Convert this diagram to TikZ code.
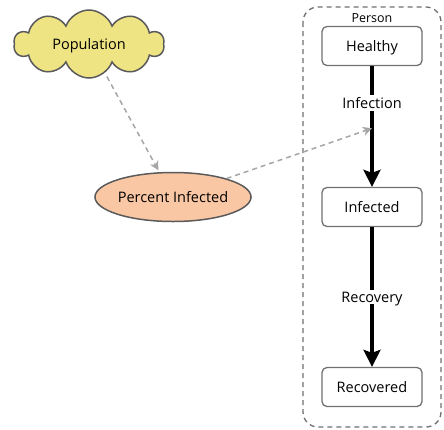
\documentclass[tikz,border=0pt]{standalone}
\usepackage{fontspec}
\setmainfont{Open Sans}
\usetikzlibrary{shapes.symbols,shapes.geometric,arrows.meta}
\definecolor{cloudfill}{HTML}{EEE484}
\definecolor{peach}{HTML}{FAC7A4}
\definecolor{edgegray}{HTML}{5A5A5A}
\definecolor{boxgray}{HTML}{707070}
\definecolor{dashgray}{HTML}{A6A6A6}
\tikzset{
  txt/.style={font=\fontsize{14.5}{16}\selectfont, text depth=0pt},
  statebox/.style={draw=boxgray, line width=1.3pt, rounded corners=5pt, fill=white,
    minimum width=100pt, minimum height=39pt, inner sep=0pt, txt},
  flowarrow/.style={line width=3.8pt, -{Stealth[length=17pt,width=17pt,inset=3pt]}},
  flowlabel/.style={fill=white, inner sep=2pt, txt},
  infl/.style={draw=dashgray, line width=1.5pt, dash pattern=on 5pt off 4pt,
    -{Stealth[length=9pt,width=9pt,inset=2.5pt]}},
}
\begin{document}
\begin{tikzpicture}[x=1pt,y=-1pt]
\useasboundingbox (0,0) rectangle (444,429);
% container
\draw[draw=boxgray, line width=1.3pt, dash pattern=on 5pt off 4pt, rounded corners=15pt]
  (303,7) rectangle (441,427);
\node[txt, font=\fontsize{12.5}{14}\selectfont] (personlbl) at (372,18) {Person};
% states
\node[statebox] (healthy) at (372,46) {Healthy};
\node[statebox] (infected) at (372,207) {Infected};
\node[statebox] (recovered) at (372,387) {Recovered};
% cloud
\node[cloud, cloud puffs=10, cloud puff arc=140, aspect=2.2, draw=edgegray, line width=1.5pt,
  fill=cloudfill, minimum width=150pt, minimum height=68pt, inner sep=0pt, txt] (pop) at (89,44) {Population};
% ellipse
\node[ellipse, draw=edgegray, line width=1.5pt, fill=peach, minimum width=142pt,
  minimum height=49pt, inner sep=0pt, txt] (pct) at (173,197) {Percent Infected};
% flows
\draw[flowarrow] (healthy.south) -- coordinate[pos=0.515] (infpt) (infected.north);
\node[flowlabel] (inflbl) at (372,103) {Infection};
\draw[flowarrow] (infected.south) -- node[flowlabel] (reclbl) {Recovery} (recovered.north);
% influences
\draw[infl, shorten <=4pt, shorten >=2pt] (pop) -- (pct);
\draw[infl] (pct) -- (infpt);
\end{tikzpicture}
\end{document}
